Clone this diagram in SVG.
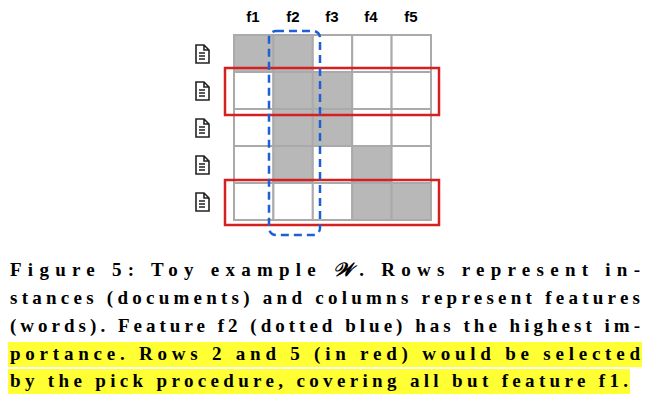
<svg xmlns="http://www.w3.org/2000/svg" width="656" height="400" viewBox="0 0 656 400">
<style>
.cell{stroke:#aaa;stroke-width:2}
.g{fill:#b8b8b8}.w{fill:#fff}
.hd{font:bold 15px "Liberation Sans",Arial,sans-serif;text-anchor:middle}
.cap{font:bold 19px "Liberation Serif","DejaVu Serif",serif}
.doc{fill:#fff;stroke:#222;stroke-width:1.6}
</style>
<defs>
<g id="doc"><path class="doc" d="M-6,-9 h8 l5,5 v13 h-13 z M2,-9 v5 h5"/><path d="M-3,-1 h6 M-3,2 h6 M-3,5 h6" stroke="#222" stroke-width="1.3"/></g>
</defs>
<rect width="656" height="400" fill="#fff"/>
<g id="headers">
<text class="hd" x="253" y="22">f1</text><text class="hd" x="293" y="22">f2</text><text class="hd" x="332" y="22">f3</text><text class="hd" x="371" y="22">f4</text><text class="hd" x="411" y="22">f5</text>
</g>
<g id="docs">
<use href="#doc" x="202" y="54"/><use href="#doc" x="202" y="91"/><use href="#doc" x="202" y="128"/><use href="#doc" x="202" y="165"/><use href="#doc" x="202" y="202"/>
</g>
<g id="grid">
<rect class="cell g" x="234" y="35" width="39.4" height="37"/><rect class="cell g" x="273.4" y="35" width="39.4" height="37"/><rect class="cell w" x="312.8" y="35" width="39.4" height="37"/><rect class="cell w" x="352.2" y="35" width="39.4" height="37"/><rect class="cell w" x="391.6" y="35" width="39.4" height="37"/>
<rect class="cell w" x="234" y="72" width="39.4" height="37"/><rect class="cell g" x="273.4" y="72" width="39.4" height="37"/><rect class="cell g" x="312.8" y="72" width="39.4" height="37"/><rect class="cell w" x="352.2" y="72" width="39.4" height="37"/><rect class="cell w" x="391.6" y="72" width="39.4" height="37"/>
<rect class="cell w" x="234" y="109" width="39.4" height="37"/><rect class="cell g" x="273.4" y="109" width="39.4" height="37"/><rect class="cell g" x="312.8" y="109" width="39.4" height="37"/><rect class="cell w" x="352.2" y="109" width="39.4" height="37"/><rect class="cell w" x="391.6" y="109" width="39.4" height="37"/>
<rect class="cell w" x="234" y="146" width="39.4" height="37"/><rect class="cell g" x="273.4" y="146" width="39.4" height="37"/><rect class="cell w" x="312.8" y="146" width="39.4" height="37"/><rect class="cell g" x="352.2" y="146" width="39.4" height="37"/><rect class="cell w" x="391.6" y="146" width="39.4" height="37"/>
<rect class="cell w" x="234" y="183" width="39.4" height="37"/><rect class="cell w" x="273.4" y="183" width="39.4" height="37"/><rect class="cell w" x="312.8" y="183" width="39.4" height="37"/><rect class="cell g" x="352.2" y="183" width="39.4" height="37"/><rect class="cell g" x="391.6" y="183" width="39.4" height="37"/>
</g>
<g id="selections" fill="none">
<rect x="225" y="68" width="214" height="47" stroke="#d42020" stroke-width="2.5"/>
<rect x="225" y="180" width="214" height="45" stroke="#d42020" stroke-width="2.5"/>
<rect x="269" y="31" width="51" height="204" rx="7" stroke="#1f5fd6" stroke-width="2.5" stroke-dasharray="8,5"/>
</g>
<g id="caption">
<rect x="8" y="342" width="634" height="25" fill="#ffff33"/>
<rect x="8" y="369" width="622" height="25" fill="#ffff33"/>
<text class="cap" x="10" y="276" textLength="630" lengthAdjust="spacing">Figure 5:  Toy example <tspan font-style="italic" font-family="DejaVu Serif">𝒲</tspan>.  Rows represent in-</text>
<text class="cap" x="10" y="304" textLength="630" lengthAdjust="spacing">stances (documents) and columns represent features</text>
<text class="cap" x="10" y="332" textLength="630" lengthAdjust="spacing">(words). Feature f2 (dotted blue) has the highest im-</text>
<text class="cap" x="10" y="360" textLength="630" lengthAdjust="spacing">portance. Rows 2 and 5 (in red) would be selected</text>
<text class="cap" x="10" y="387" textLength="618" lengthAdjust="spacing">by the pick procedure, covering all but feature f1.</text>
</g>
</svg>
